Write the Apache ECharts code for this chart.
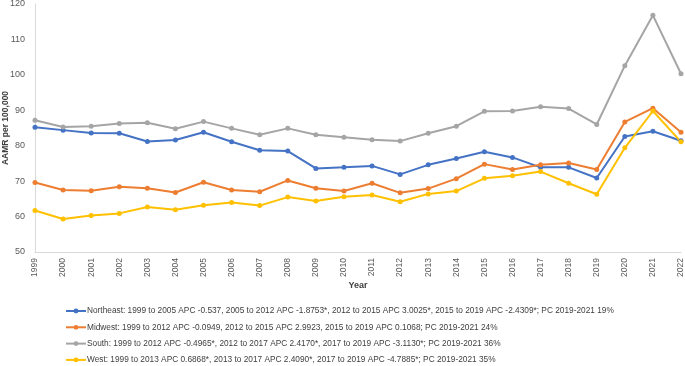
<!DOCTYPE html>
<html><head><meta charset="utf-8">
<script src="https://cdn.jsdelivr.net/npm/echarts@6/dist/echarts.min.js"></script>
<style>html,body{margin:0;padding:0;background:#fff}#c{width:685px;height:366px}</style>
</head><body><div id="c"></div>
<script>
const years = ['1999','2000','2001','2002','2003','2004','2005','2006','2007','2008','2009','2010','2011','2012','2013','2014','2015','2016','2017','2018','2019','2020','2021','2022'];
const northeast = [85.2,84.4,83.6,83.5,81.2,81.6,83.8,81.1,78.7,78.5,73.6,73.9,74.3,71.9,74.6,76.4,78.3,76.7,73.9,73.9,70.9,82.6,84.1,81.4];
const midwest = [69.6,67.5,67.3,68.4,68.0,66.8,69.7,67.5,67.0,70.2,68.0,67.2,69.4,66.7,67.9,70.7,74.8,73.3,74.6,75.1,73.3,86.7,90.6,83.8];
const south = [87.2,85.3,85.5,86.3,86.5,84.8,86.8,84.9,83.1,84.9,83.1,82.4,81.7,81.3,83.5,85.5,89.7,89.8,91.0,90.5,86.0,102.6,116.8,100.3];
const west = [61.7,59.3,60.3,60.9,62.7,61.9,63.2,64.0,63.1,65.5,64.4,65.6,66.1,64.2,66.4,67.2,70.8,71.5,72.7,69.4,66.3,79.4,89.8,81.1];
const names = [
  'Northeast: 1999 to 2005 APC -0.537, 2005 to 2012 APC -1.8753*, 2012 to 2015 APC 3.0025*, 2015 to 2019 APC -2.4309*; PC 2019-2021 19%',
  'Midwest: 1999 to 2012 APC -0.0949, 2012 to 2015 APC 2.9923, 2015 to 2019 APC 0.1068; PC 2019-2021 24%',
  'South: 1999 to 2012 APC -0.4965*, 2012 to 2017 APC 2.4170*, 2017 to 2019 APC -3.1130*; PC 2019-2021 36%',
  'West: 1999 to 2013 APC 0.6868*, 2013 to 2017 APC 2.4090*, 2017 to 2019 APC -4.7885*; PC 2019-2021 35%'
];
const colors = ['#4472C4','#ED7D31','#A5A5A5','#FFC000'];
const data = [northeast, midwest, south, west];
const font = "'Liberation Sans', Arial, sans-serif";
const chart = echarts.init(document.getElementById('c'));
chart.setOption({
  animation: false,
  color: colors,
  textStyle: {fontFamily: font},
  grid: {left: 35, right: 4, top: 4, bottom: 114, containLabel: false, outerBoundsMode: 'none'},
  legend: {
    orient: 'vertical', left: 65, top: 306, itemGap: 6.3, padding: 0,
    itemWidth: 20, itemHeight: 6,
    textStyle: {fontSize: 8.3, lineHeight: 10, color: '#404040', fontFamily: font, padding: [0,0,0,-4]},
    data: names
  },
  xAxis: {
    type: 'category', data: years, boundaryGap: false,
    name: 'Year', nameLocation: 'middle', nameGap: 29, nameMoveOverlap: false,
    nameTextStyle: {fontWeight: 'bold', fontSize: 9, color: '#404040'},
    axisLine: {lineStyle: {color: '#D9D9D9'}},
    axisTick: {show: false},
    axisLabel: {rotate: 90, fontSize: 8.5, color: '#595959', interval: 0, margin: 6}
  },
  yAxis: {
    type: 'value', min: 50, max: 120, interval: 10,
    name: 'AAMR per 100,000', nameLocation: 'middle', nameGap: 25, nameMoveOverlap: false,
    nameTextStyle: {fontWeight: 'bold', fontSize: 8.5, color: '#404040'},
    axisLine: {show: true, lineStyle: {color: '#D9D9D9'}},
    axisTick: {show: false},
    splitLine: {show: false},
    axisLabel: {fontSize: 9, color: '#595959', margin: 10}
  },
  series: data.map((d, i) => ({
    name: names[i], type: 'line', data: d,
    symbol: 'circle', symbolSize: 5,
    lineStyle: {width: 2, color: colors[i]},
    itemStyle: {color: colors[i]}
  }))
});
</script></body></html>
